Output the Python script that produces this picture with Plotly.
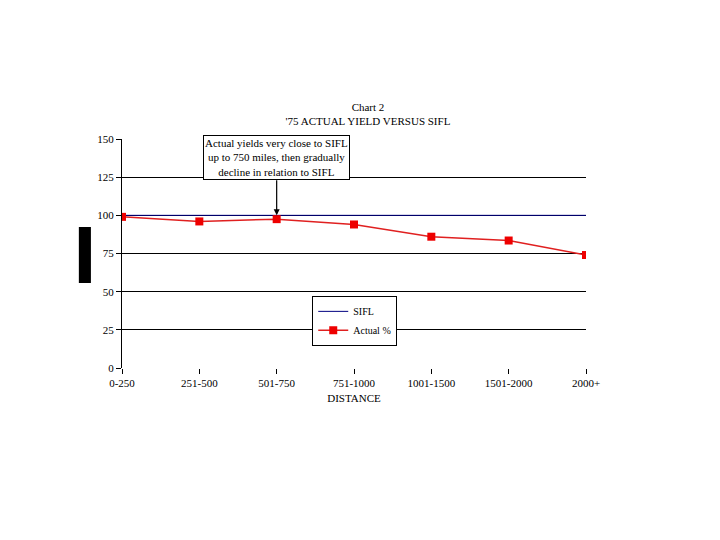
import plotly.graph_objects as go

categories = ["0-250", "251-500", "501-750", "751-1000", "1001-1500", "1501-2000", "2000+"]
sifl = [100, 100, 100, 100, 100, 100, 100]
actual = [99, 96, 97.5, 94, 86, 83.5, 74]
yticks = [0, 25, 50, 75, 100, 125, 150]

F = "Liberation Serif"
x = list(range(len(categories)))
fig = go.Figure()
fig.add_trace(go.Scatter(x=x, y=sifl, name="SIFL", mode="lines",
                         line=dict(color="#000080", width=1)))
fig.add_trace(go.Scatter(x=x, y=actual, name="Actual %", mode="lines+markers",
                         line=dict(color="#e02020", width=1.5),
                         marker=dict(symbol="square", size=8, color="#ee0000")))
fig.update_layout(
    width=720, height=540, paper_bgcolor="white", plot_bgcolor="white",
    margin=dict(l=114, r=142, t=131, b=180),
    font=dict(family=F, size=11, color="black"),
    title=dict(text="Chart 2<br>'75 ACTUAL YIELD VERSUS SIFL", x=0.5, xanchor="center",
               y=0.81, yanchor="middle", font=dict(family=F, size=11)),
    xaxis=dict(range=[0, 6], tickmode="array", tickvals=x, ticktext=categories,
               showgrid=False, zeroline=False, showline=False, ticks="outside",
               ticklen=5, tickcolor="black",
               title=dict(text="DISTANCE", font=dict(size=11), standoff=6)),
    yaxis=dict(range=[0, 150], tickvals=yticks, showgrid=True, gridcolor="black",
               gridwidth=1, zeroline=False, showline=True, linecolor="black",
               ticks="outside", ticklen=5, tickcolor="black"),
    legend=dict(x=0.41, y=0.315, xanchor="left", yanchor="top",
                bordercolor="black", borderwidth=1, bgcolor="white",
                font=dict(size=10), tracegroupgap=0, itemwidth=30),
    showlegend=True,
)
fig.add_annotation(x=2, y=100, ax=0, ay=-35, xref="x", yref="y",
                   text="Actual yields very close to SIFL<br>up to 750 miles, then gradually<br>decline in relation to SIFL",
                   showarrow=True, arrowhead=2, arrowwidth=1.2, arrowcolor="black",
                   yanchor="bottom", bordercolor="black", borderwidth=1, bgcolor="white",
                   font=dict(family=F, size=11))
fig.add_shape(type="rect", xref="paper", yref="paper", x0=-0.093, x1=-0.067,
              y0=(368-283)/229, y1=(368-227)/229, fillcolor="black", line=dict(width=0))
fig.write_html("out.html")
